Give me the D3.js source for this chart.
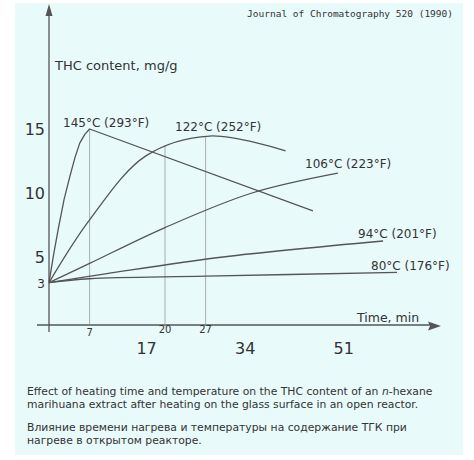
<!DOCTYPE html>
<html>
<head>
<meta charset="utf-8">
<script src="https://cdn.jsdelivr.net/npm/d3@7"></script>
<style>
  body { margin: 0; background: #fff; }
  text { font-family: "DejaVu Sans", Verdana, sans-serif; fill: #333; }
</style>
</head>
<body>
<div class="chart"></div>
<script>
// values: [time min, THC mg/g]
var series145 = [[0, 3], [0.8, 5.2], [1.6, 7.2], [2.6, 9.5], [3.6, 11.3], [4.5, 12.8], [5.3, 13.9], [6.2, 14.6], [7, 15], [45.5, 8.6]];
var series122 = [[0, 3], [7, 7.9], [16.7, 12.9], [27.7, 14.45], [40.8, 13.3]];
var series106 = [[0, 3], [7, 4.5], [20, 7.3], [35, 10], [49.8, 11.55]];
var series94 = [[0, 3], [10, 3.7], [30, 5], [57.6, 6.25]];
var series80 = [[0, 3], [7, 3.3], [27, 3.5], [60, 3.8]];

var curveLabels = ['145°C (293°F)', '122°C (252°F)', '106°C (223°F)', '94°C (201°F)', '80°C (176°F)'];
var yTicks = [15, 10, 5];
var smallXTicks = [7, 20, 27];
var bigXTicks = [17, 34, 51];

var width = 474;
var height = 460;

var svg = d3.select('.chart').append('svg')
  .attr('width', width)
  .attr('height', height);

svg.append('rect')
  .attr('x', 15).attr('y', 3)
  .attr('width', 448).attr('height', 452)
  .style('fill', '#e8fafa');

var x = d3.scaleLinear().domain([0, 60]).range([49, 397]);
var y = d3.scaleLinear().domain([0, 15]).range([321, 129]);

var ink = '#555';

// axes
svg.append('line')
  .attr('x1', 49).attr('y1', 14).attr('x2', 49).attr('y2', 332)
  .style('stroke', ink).style('stroke-width', 1.3);
svg.append('path').attr('d', 'M49,4 L45.5,16 L52.5,16 Z').style('fill', ink);
svg.append('line')
  .attr('x1', 37).attr('y1', 325).attr('x2', 430).attr('y2', 325)
  .style('stroke', ink).style('stroke-width', 1.3);
svg.append('path').attr('d', 'M441,326 L428,321.5 L430,326 L428,330.5 Z').style('fill', ink);

// guide lines at peak times
var guides = [[7, 15], [20, 13.75], [27, 14.45]];
svg.selectAll('.guide').data(guides).enter().append('line')
  .attr('x1', function(d) { return x(d[0]); })
  .attr('x2', function(d) { return x(d[0]); })
  .attr('y1', function(d) { return y(d[1]); })
  .attr('y2', 325)
  .style('stroke', '#999').style('stroke-width', 0.8);

var sharp = d3.line()
  .x(function(d) { return x(d[0]); })
  .y(function(d) { return y(d[1]); })
  .curve(d3.curveLinear);
var smooth = d3.line()
  .x(function(d) { return x(d[0]); })
  .y(function(d) { return y(d[1]); })
  .curve(d3.curveCatmullRom.alpha(0.5));

var allSeries = [series145, series122, series106, series94, series80];
svg.selectAll('.curve').data(allSeries).enter().append('path')
  .attr('d', function(d, i) { return i === 0 ? sharp(d) : smooth(d); })
  .style('fill', 'none').style('stroke', '#555').style('stroke-width', 1.3)
  .style('stroke-linejoin', 'round');

var labelPos = [[63, 127], [175, 131], [305, 168], [358, 238], [371, 270]];
svg.selectAll('.clabel').data(curveLabels).enter().append('text')
  .attr('x', function(d, i) { return labelPos[i][0]; })
  .attr('y', function(d, i) { return labelPos[i][1]; })
  .style('font-size', '12px')
  .text(function(d) { return d; });

// y ticks
svg.selectAll('.ytick').data(yTicks).enter().append('text')
  .attr('x', 45).attr('y', function(d) { return y(d) + 6; })
  .attr('text-anchor', 'end').style('font-size', '16px')
  .text(function(d) { return d; });
svg.append('text').attr('x', 45).attr('y', y(3) + 5)
  .attr('text-anchor', 'end').style('font-size', '12px').text('3');

svg.selectAll('.sxtick').data(smallXTicks).enter().append('text')
  .attr('x', function(d) { return x(d); })
  .attr('y', function(d) { return d === 7 ? 336 : 333; })
  .attr('text-anchor', 'middle').style('font-size', '10px')
  .text(function(d) { return d; });
svg.selectAll('.bxtick').data(bigXTicks).enter().append('text')
  .attr('x', function(d) { return x(d) - 1; })
  .attr('y', 354)
  .attr('text-anchor', 'middle').style('font-size', '16px')
  .text(function(d) { return d; });

svg.append('text').attr('x', 55).attr('y', 70)
  .style('font-size', '13px').text('THC content, mg/g');
svg.append('text').attr('x', 357).attr('y', 322)
  .style('font-size', '12.5px').text('Time, min');

svg.append('text').attr('x', 453).attr('y', 17)
  .attr('text-anchor', 'end')
  .style('font-family', '"DejaVu Sans Mono", monospace').style('font-size', '9.5px')
  .text('Journal of Chromatography 520 (1990)');

var caption = [
  'Effect of heating time and temperature on the THC content of an ',
  'marihuana extract after heating on the glass surface in an open reactor.',
  'Влияние времени нагрева и температуры на содержание ТГК при',
  'нагреве в открытом реакторе.'
];
var capY = [395, 408, 431, 444];
var cap = svg.selectAll('.cap').data(caption).enter().append('text')
  .attr('x', 27).attr('y', function(d, i) { return capY[i]; })
  .style('font-size', '10.8px')
  .text(function(d) { return d; });
var first = d3.select(cap.nodes()[0]);
first.append('tspan').style('font-style', 'italic').text('n');
first.append('tspan').text('-hexane');
</script>
</body>
</html>
